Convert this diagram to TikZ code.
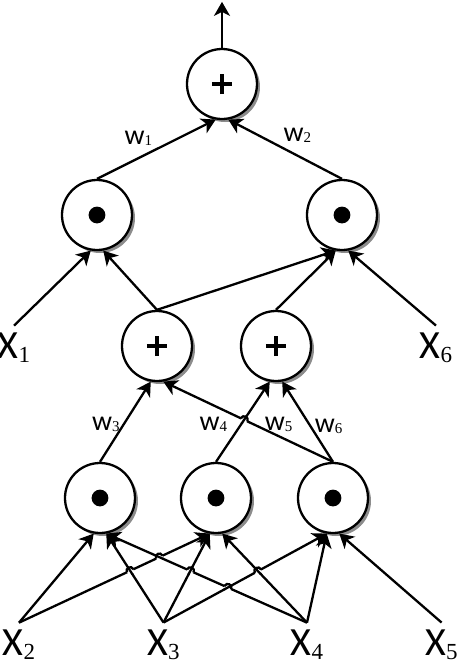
\documentclass[tikz,border=0pt]{standalone}
\usepackage{fontspec}
\setmainfont{Carlito}
\newfontfamily\subfont{Liberation Serif}
\usetikzlibrary{positioning,arrows.meta,shadows,calc,intersections}

\newcommand{\xlab}[1]{X\raisebox{-2pt}{\subfont\fontsize{11.5}{12}\selectfont #1}}
\newcommand{\wlab}[1]{w\raisebox{-0.5pt}{\subfont\fontsize{7.5}{8}\selectfont #1}}
% jump of line #1--#2 (given left to right) over line #3--#4
\newcommand{\linehop}[4]{%
  \path[name path=hopa] (#1) -- (#2);
  \path[name path=hopb] (#3) -- (#4);
  \path[name intersections={of=hopa and hopb, by=hx}];
  \fill[-,white] (hx) circle (1.8pt);
  \draw[-] ($(hx)!2.2pt!(#3)$) -- ($(hx)!2.2pt!(#4)$);
  \draw[-] ($(hx)!1.8pt!(#1)$) to[bend left=90, looseness=1.7] ($(hx)!1.8pt!(#2)$);
}

\begin{document}
\begin{tikzpicture}[->,>={Stealth[length=7pt,width=8pt,inset=2pt]},line width=1.15pt,on grid,node distance=65.5pt and 60pt,
  op/.style={circle,draw,fill=white,minimum size=35pt,inner sep=0pt,drop shadow={shadow xshift=1.5pt,shadow yshift=-1.5pt,fill=black!45,opacity=1}},
  sum node/.style={op,path picture={\draw[-,black,line width=2.2pt] ([xshift=-5pt]path picture bounding box.center) -- ([xshift=5pt]path picture bounding box.center) ([yshift=-5pt]path picture bounding box.center) -- ([yshift=5pt]path picture bounding box.center);}},
  prod node/.style={op,path picture={\fill[-,black] (path picture bounding box.center) circle (4.2pt);}},
  input/.style={inner sep=0pt,outer sep=3.5pt,font=\fontsize{20}{24}\selectfont},
  weight/.style={inner sep=1.5pt,font=\fontsize{14}{16}\selectfont}]

            \useasboundingbox (-111pt,42pt) rectangle (118pt,-290.5pt);

            \node[sum node] (1) {};

            \node[prod node] (2) [below left=65.5pt and 62.5pt of 1] {};
            \node[prod node] (3) [below right=65.5pt and 60pt of 1] {};

            \node[sum node] (4) [below right=65.5pt and 30pt of 2] {};
            \node[sum node] (5) [right=59.5pt of 4] {};

            \node[prod node] (6) [below left=76pt and 28.5pt of 4] {};
            \node[prod node] (7) [right=58pt of 6] {};
            \node[prod node] (8) [right=58.5pt of 7] {};

            \node[input] (x1) [below left=66.25pt and 41.5pt of 2] {\xlab{1}};
            \node[input] (x6) [below right=66.25pt and 47pt of 3] {\xlab{6}};
            \node[input] (x2) [below left=73.25pt and 40.5pt of 6] {\xlab{2}};
            \node[input] (x3) [below right=73.25pt and 31.75pt of 6] {\xlab{3}};
            \node[input] (x4) [below left=73.25pt and 13pt of 8] {\xlab{4}};
            \node[input] (x5) [below right=73.25pt and 54.3pt of 8] {\xlab{5}};

            \coordinate[above=23pt of 1.north] (out);

            \path[every node/.style={weight}]
                (1.north) edge (out)

                (2.north) edge node[pos=0.5, anchor=south east] {\wlab{1}} (1.-100)
                (3.north) edge node[pos=0.55, anchor=south west] {\wlab{2}} (1.-80)

                (x1.north) edge (2.-100)
                (4.north) edge (2.-80)
                (4.north) edge (3.-100)
                (5.north) edge (3.-100)
                (x6.north) edge (3.-80)

                (6.north) edge node[pos=0.47, anchor=east] {\wlab{3}} (4.-100)
                (7.north) edge node[pos=0.47, anchor=east, xshift=-5pt] {\wlab{4}} (5.-100)
                (8.north) edge node[pos=0.32, anchor=south] {\wlab{5}} (4.-80)
                (8.north) edge node[pos=0.44, anchor=west] {\wlab{6}} (5.-80)

                (x2.north) edge (6.-100)
                (x2.north) edge (7.-100)
                (x3.north) edge (6.-80)
                (x3.north) edge (7.-100)
                (x3.north) edge (8.-100)
                (x4.north) edge (6.-80)
                (x4.north) edge (7.-80)
                (x4.north) edge (8.-100)
                (x5.north) edge (8.-80)
                ;

            % line jumps
            \linehop{x2.north}{7.-100}{x3.north}{6.-80}
            \linehop{x2.north}{7.-100}{x4.north}{6.-80}
            \linehop{6.-80}{x4.north}{x3.north}{7.-100}
            \linehop{6.-80}{x4.north}{x3.north}{8.-100}
            \linehop{x3.north}{8.-100}{x4.north}{7.-80}
            \linehop{4.-80}{8.north}{7.north}{5.-100}
        \end{tikzpicture}
\end{document}
